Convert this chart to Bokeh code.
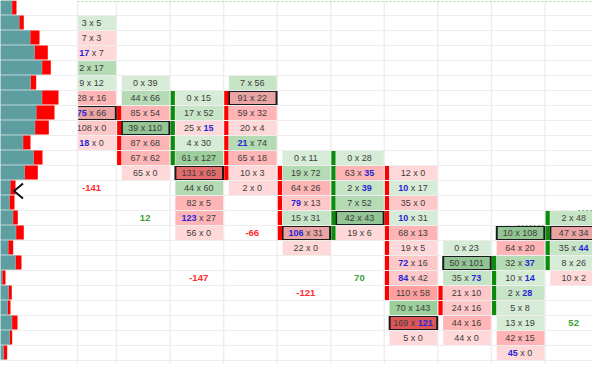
from bokeh.plotting import figure
from bokeh.models import Range1d, ColumnDataSource
from bokeh.embed import file_html
from bokeh.resources import INLINE
from bokeh.core.properties import value

# ---------------- data ----------------
# footprint cells (column index, price level counted from top, bid x ask)
cell_col = [0]*9 + [1]*7 + [2]*10 + [3]*8 + [4]*7 + [5]*6 + [6]*12 + [7]*7 + [8]*9 + [9]*5
cell_level = [1, 2, 3, 4, 5, 6, 7, 8, 9,
              5, 6, 7, 8, 9, 10, 11,
              6, 7, 8, 9, 10, 11, 12, 13, 14, 15,
              5, 6, 7, 8, 9, 10, 11, 12,
              10, 11, 12, 13, 14, 15, 16,
              10, 11, 12, 13, 14, 15,
              11, 12, 13, 14, 15, 16, 17, 18, 19, 20, 21, 22,
              16, 17, 18, 19, 20, 21, 22,
              15, 16, 17, 18, 19, 20, 21, 22, 23,
              14, 15, 16, 17, 18]
cell_bid = [3, 7, 17, 2, 9, 28, 75, 108, 18,
            0, 44, 85, 39, 87, 67, 65,
            0, 17, 25, 4, 61, 131, 44, 82, 123, 56,
            7, 91, 59, 20, 21, 65, 10, 2,
            0, 19, 64, 79, 15, 106, 22,
            0, 63, 2, 7, 42, 19,
            12, 10, 35, 10, 68, 19, 72, 84, 110, 70, 169, 5,
            0, 50, 35, 21, 24, 44, 44,
            10, 64, 32, 10, 2, 5, 13, 42, 45,
            2, 47, 35, 8, 10]
cell_ask = [5, 3, 7, 17, 12, 16, 66, 0, 0,
            39, 66, 54, 110, 68, 62, 0,
            15, 52, 15, 30, 127, 65, 60, 5, 27, 0,
            56, 22, 32, 4, 74, 18, 3, 0,
            11, 72, 26, 13, 31, 31, 0,
            28, 35, 39, 52, 43, 6,
            0, 17, 0, 31, 13, 5, 16, 42, 58, 143, 121, 0,
            23, 101, 73, 10, 16, 16, 0,
            108, 20, 37, 14, 28, 8, 19, 15, 0,
            48, 34, 44, 26, 2]
# shade intensity (5+ = point of control, boxed)
cell_shade = [1, 1, 1, 3, 1, 3, 5, 2, 1,
              1, 3, 3, 5, 3, 3, 1,
              1, 2, 1, 1, 4, 6, 3, 3, 3, 1,
              2, 5, 3, 1, 3, 3, 1, 1,
              1, 3, 3, 2, 2, 5, 1,
              1, 3, 2, 3, 5, 1,
              1, 1, 2, 1, 3, 1, 2, 2, 4, 4, 7, 1,
              1, 5, 2, 2, 2, 3, 1,
              5, 3, 3, 1, 2, 1, 1, 3, 1,
              2, 5, 2, 1, 1]
# imbalance highlight: "b" = bid number, "a" = ask number
cell_hi = ["", "", "b", "", "", "", "b", "", "b",
           "", "", "", "", "", "", "",
           "", "", "a", "", "", "", "", "", "b", "",
           "", "", "", "", "b", "", "", "",
           "", "", "", "b", "", "b", "",
           "", "a", "a", "", "", "",
           "", "b", "", "b", "", "", "b", "b", "", "", "a", "",
           "", "", "a", "", "", "", "",
           "", "", "a", "a", "a", "", "", "", "b",
           "", "", "a", "", ""]

# bar deltas
delta_col = [0, 1, 2, 3, 4, 5, 9]
delta_level = [12, 14, 18, 15, 19, 18, 21]
delta_value = [-141, 12, -147, -66, -121, 70, 52]

# candle bodies (open/close levels)
candle_col = [1, 2, 3, 4, 5, 6, 7, 8, 9, 10]
candle_top = [7, 6, 6, 11, 10, 11, 19, 17, 14, 9]
candle_bottom = [11, 11, 12, 16, 16, 20, 21, 21, 18, 14]
candle_up = [False, True, False, False, True, False, False, True, True, True]

# volume profile per level (buy part, sell part)
profile_level = list(range(24))
profile_buy = [717, 790, 900, 943, 1017, 903, 1017, 960, 947, 827, 933, 843,
               700, 693, 727, 757, 680, 753, 620, 683, 673, 717, 693, 633]
profile_sell = [43, 43, 90, 130, 86, 54, 163, 180, 136, 73, 87, 130,
                50, 47, 46, 76, 47, 57, 30, 30, 27, 53, 24, 34]
current_level = 12

# unfinished-auction dotted marks (column, level, start fraction)
mark_col = [8, 9]
mark_level = [15, 14]
mark_from = [0.49, 0.62]

# ---------------- layout ----------------
W, H = 592, 364
COLW = 53.56
X0 = 62.44
ROWPX = 15.0
x_start = (0 - X0) / COLW
x_end = (W - X0) / COLW
n_rows = H / ROWPX
panel_edge = (77 - X0) / COLW

p = figure(width=W, height=H, x_range=Range1d(x_start, x_end), y_range=Range1d(n_rows, 0),
           output_backend="svg", toolbar_location=None, x_axis_location=None,
           y_axis_location=None, min_border=0, outline_line_color=None,
           background_fill_color="white", border_fill_color="white")
p.grid.visible = False
p.extra_x_ranges = {"vol": Range1d(600, 600 + 10 * W)}

GRID = "#eeeeee"
# vertical grid
vx = [float(c) for c in range(1, 11)]
p.segment(x0=vx, y0=[0]*len(vx), x1=vx, y1=[n_rows]*len(vx), line_color=GRID, line_width=1.5)

green = {1: "#d6ecd6", 2: "#c6e4c6", 3: "#b4dbb4", 4: "#9ccf9c", 5: "#93c493"}
red = {1: "#ffd9d9", 2: "#ffc8c8", 3: "#ffb5b5", 4: "#ffa0a0", 5: "#eba4a4", 6: "#e46c6c", 7: "#dd5656"}

fills = []
for b, a, s in zip(cell_bid, cell_ask, cell_shade):
    fills.append(green[s] if a > b else red[s])

cells = ColumnDataSource(dict(
    left=[c + 0.098 for c in cell_col], right=[c + 0.99 for c in cell_col],
    top=[l + 0.03 for l in cell_level], bottom=[l + 0.97 for l in cell_level],
    fill=fills))
p.quad(left="left", right="right", top="top", bottom="bottom", fill_color="fill",
       line_color=None, source=cells)

poc_idx = [i for i, s in enumerate(cell_shade) if s >= 5]
p.quad(left=[cell_col[i] + 0.1 for i in poc_idx], right=[cell_col[i] + 0.988 for i in poc_idx],
       top=[cell_level[i] + 0.04 for i in poc_idx], bottom=[cell_level[i] + 0.96 for i in poc_idx],
       fill_color=None, line_color="#1a1a1a", line_width=2)

# cell texts
FONT = value("Liberation Sans")
FS = "9px"
TXT = "#3d3d3d"
BLUE = "#2626d6"
DW = 0.556 * 9
GAP = 4.75
plain = dict(x=[], y=[], t=[])
parts = dict(x=[], y=[], t=[], off=[], align=[], color=[], style=[])
for c, l, b, a, h in zip(cell_col, cell_level, cell_bid, cell_ask, cell_hi):
    cx = c + 0.535
    cy = l + 0.52
    if not h:
        plain["x"].append(cx); plain["y"].append(cy); plain["t"].append(f"{b} x {a}")
    else:
        sb, sa = str(b), str(a)
        xo = (len(sb) - len(sa)) * DW / 2
        for t, off, al, col, st in ((sb, xo - GAP, "right", BLUE if h == "b" else TXT, "bold" if h == "b" else "normal"),
                                    ("x", xo, "center", TXT, "normal"),
                                    (sa, xo + GAP, "left", BLUE if h == "a" else TXT, "bold" if h == "a" else "normal")):
            parts["x"].append(cx); parts["y"].append(cy); parts["t"].append(t)
            parts["off"].append(off); parts["align"].append(al)
            parts["color"].append(col); parts["style"].append(st)

p.text(x="x", y="y", text="t", source=ColumnDataSource(plain), text_font=FONT,
       text_font_size=FS, text_color=TXT, text_align="center", text_baseline="middle")
p.text(x="x", y="y", text="t", x_offset="off", text_align="align", text_color="color",
       text_font_style="style", source=ColumnDataSource(parts), text_font=FONT,
       text_font_size=FS, text_baseline="middle")

# candle bodies
p.quad(left=[c + 0.011 for c in candle_col], right=[c + 0.09 for c in candle_col],
       top=candle_top, bottom=candle_bottom,
       fill_color=["#0c8c0c" if u else "#ff0000" for u in candle_up], line_color=None)

# profile panel mask
p.quad(left=[x_start - 1], right=[panel_edge], top=[0], bottom=[n_rows], fill_color="white", line_color=None)

# horizontal grid
hy = [float(r) for r in range(1, 25)]
p.segment(x0=[x_start - 1]*len(hy), y0=hy, x1=[x_end + 1]*len(hy), y1=hy, line_color=GRID, line_width=1.2)
p.segment(x0=[panel_edge], y0=[0], x1=[panel_edge], y1=[n_rows], line_color=GRID, line_width=1.5)

# volume profile
py = [l + 0.465 for l in profile_level]
p.hbar(y=py, height=0.93, left=0, right=profile_buy, x_range_name="vol",
       fill_color="#5f9ea0", line_color="#8dbcbe", line_width=1)
p.hbar(y=py, height=0.93, left=profile_buy, right=[b + s for b, s in zip(profile_buy, profile_sell)],
       x_range_name="vol", fill_color="#ff0000", line_color=None)

# current price chevron
p.line(x=[825, 735, 825], y=[current_level + 0.2, current_level + 0.7, current_level + 1.2],
       x_range_name="vol", line_color="#111111", line_width=2)

# dotted marks
p.segment(x0=[panel_edge], y0=[0.06], x1=[x_end], y1=[0.06], line_color="#a3d4a3",
          line_width=1, line_dash="2 2")
p.segment(x0=[c + f for c, f in zip(mark_col, mark_from)], y0=mark_level,
          x1=[c + 1.0 for c in mark_col], y1=mark_level, line_color="#8aa88a",
          line_width=1, line_dash="2 2")

# deltas
p.text(x=[c + 0.535 for c in delta_col], y=[l + 0.52 for l in delta_level],
       text=[str(v) for v in delta_value],
       text_color=["#ff2b2b" if v < 0 else "#3a9f3a" for v in delta_value],
       text_font=FONT, text_font_size="9.5px", text_font_style="bold",
       text_align="center", text_baseline="middle")

open("out.html", "w").write(file_html(p, INLINE))
